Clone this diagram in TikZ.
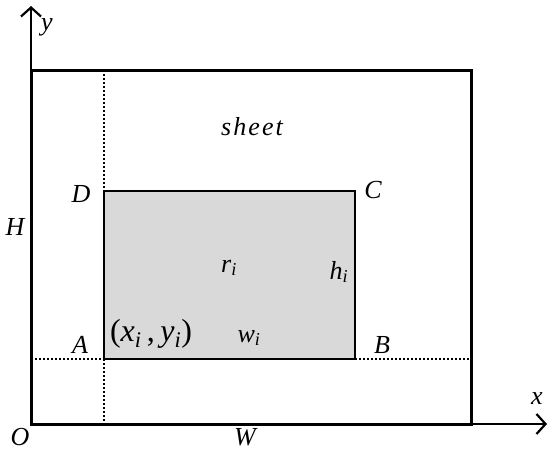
\documentclass[tikz,border=0pt]{standalone}
\usepackage{fontspec}
\setmainfont{Liberation Serif}
\usetikzlibrary{arrows.meta,positioning}
\newcommand{\sub}[2]{\textit{#1}\textsubscript{\textit{#2}}}
\begin{document}
\begin{tikzpicture}[x=1pt,y=-1pt,font=\fontsize{26}{28}\selectfont\itshape]

		% Setup the styles
		\tikzset{axis style/.style={line width=2.2pt, -{Straight Barb[length=9pt,width=20pt,line width=2.2pt]}},
			sheet style/.style={line width=3pt},
			part style/.style={line width=1.8pt, fill=gray!30},
			guide style/.style={line width=1.3pt, dash pattern=on 2.2pt off 1.8pt}}

		\useasboundingbox (0,0) rectangle (550,453);

		% Corner points
		\coordinate (O) at (31,424);
		\coordinate (ytip) at (31,6);
		\coordinate (xtip) at (547,424);
		\coordinate (S) at (471,70);
		\coordinate (A) at (104,359);
		\coordinate (B) at (355,359);
		\coordinate (C) at (355,191);
		\coordinate (D) at (104,191);
		\coordinate (Atop) at (104,70);
		\coordinate (Abot) at (104,424);
		\coordinate (Aleft) at (31,359);
		\coordinate (Aright) at (471,359);

		% Sheet, part and guides
		\draw[guide style] (Atop) -- (D) (A) -- (Abot);
		\draw[guide style] (Aleft) -- (A) (B) -- (Aright);
		\draw[part style] (A) rectangle (C);
		\draw[sheet style] (O) rectangle (S);
		\draw[axis style] (O) -- (ytip);
		\draw[axis style] (O) -- (xtip);

		% Labels
		\node (ylab) at (47,27) {y};
		\node (xlab) at (537,399) {x};
		\node (Olab) at (20,437) {O};
		\node (Wlab) at (245,437) {W};
		\node (Hlab) at (15,227) {H};
		\node (Dlab) at (81,194) {D};
		\node (Clab) at (373,190) {C};
		\node (Alab) at (80,345) {A};
		\node (Blab) at (382,345) {B};
		\node[font=\fontsize{26}{28}\selectfont\itshape\addfontfeatures{LetterSpace=8}] (sheet) at (252,127) {sheet};
		\node (ri) at (229,268) {\sub{r}{i}};
		\node (hi) at (339,272) {\sub{h}{i}};
		\node (wi) at (249,338) {\sub{w}{i}};
		\node[font=\fontsize{32}{34}\selectfont] (xy) at (151,334) {(\sub{x}{i}\,,\,\sub{y}{i})};
\end{tikzpicture}
\end{document}
